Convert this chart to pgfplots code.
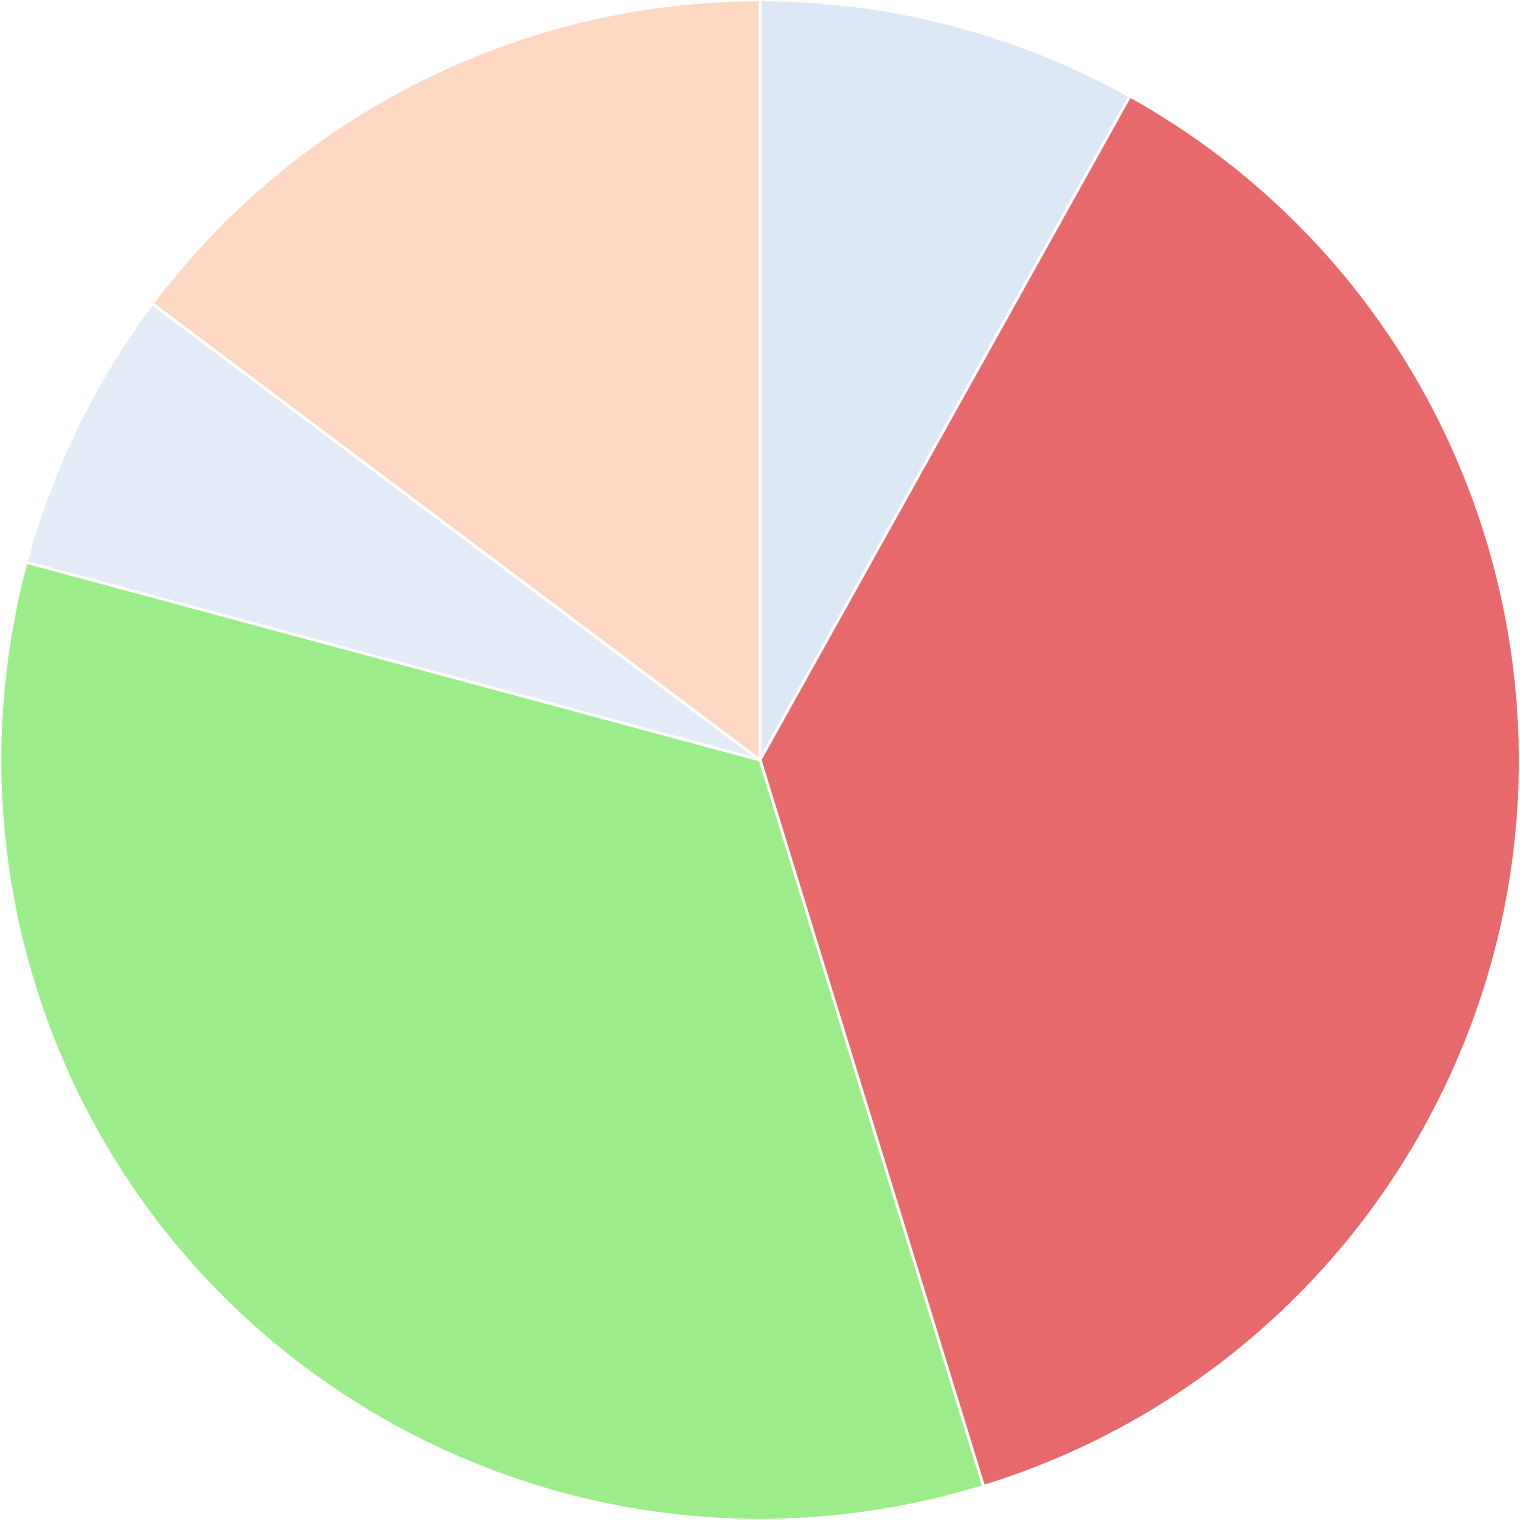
\documentclass[border=0pt]{standalone}
\usepackage{pgfplots}
\usepackage{pgfplotstable}
\pgfplotsset{compat=1.18}

\definecolor{sliceA}{HTML}{DCE8F5}
\definecolor{sliceB}{HTML}{E8696B}
\definecolor{sliceC}{HTML}{9BED8A}
\definecolor{sliceD}{HTML}{E4ECF8}
\definecolor{sliceE}{HTML}{FCD8C2}

% shares in percent, clockwise from 12 o'clock
\pgfplotstableread{
share color
8.09  sliceA
37.16 sliceB
33.94 sliceC
6.06  sliceD
14.75 sliceE
}\slices

\begin{document}
\begin{tikzpicture}
\begin{axis}[
    name=pie,
    hide axis,
    x=5cm, y=5cm,
    xmin=-1, xmax=1,
    ymin=-1, ymax=1,
    clip=false
]
\pgfplotstablegetrowsof{\slices}
\pgfmathtruncatemacro{\last}{\pgfplotsretval-1}
\def\cum{0}
\pgfplotsforeachungrouped \i in {0,...,\last}{%
    \pgfplotstablegetelem{\i}{share}\of\slices \let\val\pgfplotsretval
    \pgfplotstablegetelem{\i}{color}\of\slices \let\col\pgfplotsretval
    \pgfmathsetmacro{\aStart}{90-3.6*\cum}%
    \pgfmathsetmacro{\aEnd}{90-3.6*(\cum+\val)}%
    \pgfmathsetmacro{\xs}{cos(\aStart)}%
    \pgfmathsetmacro{\ys}{sin(\aStart)}%
    \edef\temp{\noexpand\fill[fill=\col, draw=white, line width=0.5pt, line join=round]
        (axis cs:0,0) -- (axis cs:\xs,\ys)
        arc[start angle=\aStart, end angle=\aEnd, radius=5cm] -- cycle;}%
    \temp
    \pgfmathsetmacro{\cum}{\cum+\val}%
}
\end{axis}
\pgfresetboundingbox
\path (pie.south west) rectangle (pie.north east);
\end{tikzpicture}
\end{document}
